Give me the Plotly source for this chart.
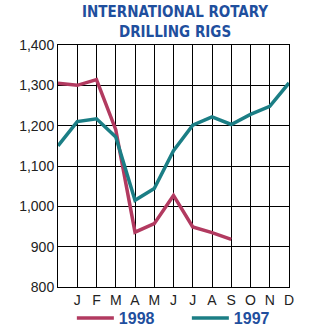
import plotly.graph_objects as go

positions = list(range(13))
month_labels = ["J", "F", "M", "A", "M", "J", "J", "A", "S", "O", "N", "D"]
rigs_1998 = [1305, 1300, 1314, 1190, 936, 957, 1027, 949, 935, 918]
rigs_1997 = [1150, 1210, 1217, 1172, 1015, 1044, 1138, 1201, 1222, 1203, 1228, 1248, 1306]
y_ticks = [800, 900, 1000, 1100, 1200, 1300, 1400]

fig = go.Figure()
fig.add_trace(go.Scatter(x=positions[:len(rigs_1998)], y=rigs_1998, mode="lines", name="1998",
                         line=dict(color="#b23a60", width=3.5)))
fig.add_trace(go.Scatter(x=positions, y=rigs_1997, mode="lines", name="1997",
                         line=dict(color="#1b7e85", width=3.5)))

fig.add_annotation(text="INTERNATIONAL ROTARY<br>DRILLING RIGS", xref="paper", yref="paper",
                   x=0.505, xanchor="center", y=1.182, yanchor="top", showarrow=False,
                   font=dict(family="Liberation Sans Narrow, DejaVu Sans Condensed, Arial", size=15,
                             color="#1f4f9e", weight="bold"))

fig.update_layout(
    width=311, height=326,
    margin=dict(l=58, r=22, t=45, b=39, autoexpand=False),
    paper_bgcolor="white", plot_bgcolor="white",
    xaxis=dict(range=[0, 12], tickvals=list(range(1, 13)), ticktext=month_labels,
               showgrid=True, gridcolor="black", gridwidth=1, zeroline=False,
               showline=True, linecolor="black", linewidth=1, mirror=True,
               ticks="", tickfont=dict(family="Liberation Sans, Arial", size=14, color="#222"),
               fixedrange=True),
    yaxis=dict(range=[800, 1400], tickvals=y_ticks, tickformat=",d",
               showgrid=True, gridcolor="black", gridwidth=1, zeroline=False,
               showline=True, linecolor="black", linewidth=1, mirror=True,
               ticks="", tickfont=dict(family="Liberation Sans, Arial", size=14, color="#222"),
               fixedrange=True),
    legend=dict(orientation="h", x=0.06, xanchor="left", y=-0.058, yanchor="top",
                font=dict(family="Liberation Sans, Arial", size=16, color="#1f4f9e", weight="bold"),
                itemwidth=37, entrywidth=63, bgcolor="rgba(0,0,0,0)"),
    showlegend=True,
)

fig.write_html("out.html")
